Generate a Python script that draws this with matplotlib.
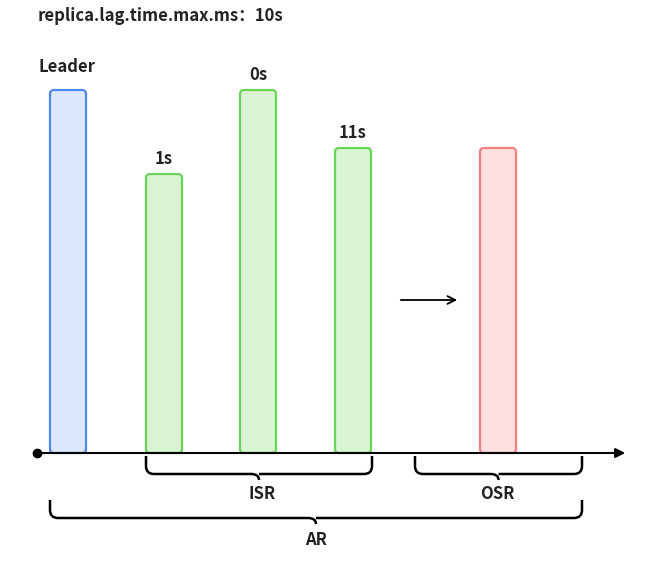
import matplotlib
matplotlib.use("Agg")
import matplotlib.pyplot as plt
from matplotlib.path import Path
from matplotlib.patches import PathPatch, FancyBboxPatch

plt.rcParams['font.family'] = ['Noto Sans CJK SC', 'DejaVu Sans']

names = ["Leader", "1s", "0s", "11s", "OSR"]
heights = [363, 279, 363, 305, 305]
xpos = [68, 164, 258, 353, 498]
fills = ["#dde8fc", "#d9f5d3", "#d9f5d3", "#d9f5d3", "#fde0e0"]
edges = ["#4f86f0", "#6ad35a", "#6ad35a", "#6ad35a", "#f07f7f"]
lag_labels = ["", "1s", "0s", "11s", ""]

W, H = 649, 570
fig = plt.figure(figsize=(W/100, H/100), dpi=100)
ax = fig.add_axes([0, 0, 1, 1])
ax.set_xlim(0, W)
ax.set_ylim(H, 0)
ax.axis("off")

base = 453
bw = 36
for x, h, f, e in zip(xpos, heights, fills, edges):
    p = FancyBboxPatch((x - bw/2, base - h), bw, h, boxstyle="round,pad=0,rounding_size=4",
                       fc=f, ec=e, lw=1.6, zorder=2)
    ax.add_patch(p)
for x, h, t in zip(xpos, heights, lag_labels):
    if t:
        ax.text(x, base - h - 6, t, ha="center", va="bottom", fontsize=12, fontweight="bold", color="#222")

ax.text(38, 16, "replica.lag.time.max.ms：10s", fontsize=12, fontweight="bold", va="center", color="#222")
ax.text(38, 67, "Leader", fontsize=12, fontweight="bold", va="center", color="#222")

# axis
ax.annotate("", xy=(628, base), xytext=(37, base),
            arrowprops=dict(arrowstyle="-|>", color="black", lw=1.5, mutation_scale=14), zorder=3)
ax.plot([37], [base], "o", color="black", ms=6, zorder=4)
ax.annotate("", xy=(460, 300), xytext=(398, 300),
            arrowprops=dict(arrowstyle="->", color="black", lw=1.3, mutation_scale=14))

def brace(x0, x1, y0, depth=18, r=8):
    xm = (x0 + x1) / 2
    ym = y0 + depth - r
    verts = [(x0, y0), (x0, ym), (x0, ym + r), (x0 + r, ym + r),
             (xm - r, ym + r), (xm, ym + r), (xm, ym + r + 6),
             (xm, ym + r), (xm + r, ym + r),
             (x1 - r, ym + r), (x1, ym + r), (x1, ym), (x1, y0)]
    codes = [Path.MOVETO, Path.LINETO, Path.CURVE3, Path.CURVE3,
             Path.LINETO, Path.CURVE3, Path.CURVE3,
             Path.MOVETO, Path.LINETO,
             Path.LINETO, Path.CURVE3, Path.CURVE3, Path.LINETO]
    ax.add_patch(PathPatch(Path(verts, codes), fc="none", ec="black", lw=1.8))

brace(146, 372, 456)
brace(415, 582, 456)
brace(50, 582, 500)
ax.text(262, 494, "ISR", ha="center", va="center", fontsize=12, fontweight="bold", color="#222")
ax.text(497, 494, "OSR", ha="center", va="center", fontsize=12, fontweight="bold", color="#222")
ax.text(316, 540, "AR", ha="center", va="center", fontsize=12, fontweight="bold", color="#222")

fig.savefig("out.png", dpi=100)
